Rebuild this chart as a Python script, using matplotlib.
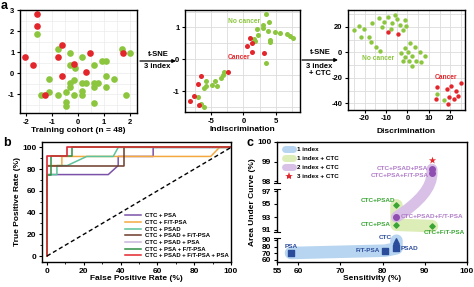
import matplotlib
matplotlib.use('Agg')
import matplotlib.pyplot as plt
import numpy as np
from matplotlib.lines import Line2D
from matplotlib.path import Path
from matplotlib.patches import PathPatch
from matplotlib.ticker import MultipleLocator, FixedLocator

plt.rcParams['font.family'] = ['Liberation Sans', 'DejaVu Sans']
plt.rcParams['font.weight'] = 'bold'
plt.rcParams['axes.labelweight'] = 'bold'
plt.rcParams['axes.unicode_minus'] = False
plt.rcParams['axes.linewidth'] = 1.0

# ---- panel a, training cohort
a1_red_x = [-1.58, -1.58, -2.04, -1.74, -0.63, -0.79, -0.17, -0.63, 0.45, 0.31, 1.71, -1.27]
a1_red_y = [2.82, 2.25, 0.78, 0.40, 1.35, 0.79, 0.43, -0.11, 0.97, 0.05, 0.97, -1.03]
a1_grn_x = [-1.58, -0.78, -0.32, 0.14, -0.33, -0.14, 0.60, 0.91, 1.08, 1.69, 2.00, 1.08,
            1.38, -1.12, -0.17, -0.33, -0.33, 0.14, 0.31, 0.60, 0.76, 0.60, 1.08, -1.12,
            -0.48, 0.14, 0.14, -0.17, -0.78, -1.42, -0.48, -0.48, 0.60, 1.86]
a1_grn_y = [1.87, 1.17, 0.97, 0.79, 0.40, 0.24, 0.40, 0.60, 0.60, 1.17, 0.95, -0.11,
            -0.27, -0.27, -0.30, -0.49, -0.65, -0.49, -0.49, -0.49, -0.49, -0.65, -0.65, -0.90,
            -0.90, -0.87, -1.03, -1.03, -1.03, -1.03, -1.38, -1.56, -1.40, -1.03]

# ---- panel a, t-SNE on 3 index
a2_red_x = [-8.2, -7.58, -6.92, -7.0, -6.6, -2.4, 0.57, 0.98, 1.29, 1.29, 3.23]
a2_red_y = [-1.32, -1.16, -1.43, -0.77, -0.54, -0.40, 0.43, 0.68, 0.51, 0.23, 0.21]
a2_grn_x = [-7.0, -6.5, -6.0, -6.15, -5.8, -5.8, -4.77, -4.36, -4.0, -3.48, -3.08, -2.97,
            3.44, 4.0, 3.08, 3.08, 3.75, 2.06, 1.69, 1.8, 2.31, 4.1, 4.1, 4.88, 5.65,
            6.67, 7.18, 7.69, 3.44]
a2_grn_y = [-1.19, -1.40, -1.50, -0.89, -0.85, -0.68, -0.80, -0.68, -0.84, -0.58, -0.50, -0.39,
            1.41, 1.16, 1.07, 0.97, 0.89, 0.95, 0.63, 0.57, 0.76, 0.62, 0.55, 0.86, 0.84,
            0.78, 0.73, 0.67, -0.11]

# ---- panel a, t-SNE on 3 index + CTC
a3_red_x = [-8.9, -4.2, 13.8, 13.2, 18.7, 18.2, 20.2, 22.4, 19.4, 21.8, 23.6, 24.8]
a3_red_y = [16.2, 14.2, -27.6, -36.5, -40.5, -29.1, -26.5, -30.2, -35.0, -37.0, -34.4, -24.4]
a3_grn_x = [-25.1, -22.8, -20.4, -21.5, -18.1, -16.8, -14.5, -12.6, -16.5, -13.4, -11.1, -11.7,
            -9.1, -7.0, -5.6, -4.9, -3.6, -7.9, -2.3, -1.1, -0.5, 1.1, -1.3, 3.4, 5.7, 8.1,
            -2.8, 0.3, -1.3, 1.9, 3.9, 0.6, -2.3, 6.5, 2.3, 13.6, 17.0]
a3_grn_y = [17.6, 21.0, 18.3, 11.8, 11.8, 7.9, 4.4, 1.3, 23.3, 26.8, 24.1, 19.7,
            27.6, 22.8, 29.4, 26.0, 21.5, 18.3, 17.6, 25.4, 20.9, 7.1, 3.6, 3.9, 0.5, -2.7,
            -0.3, 0.5, -3.5, -2.9, -6.9, -6.9, -6.6, -7.4, -10.8, -33.1, -37.6]

# ---- panel b, ROC curves
roc_labels = ['CTC + PSA', 'CTC + F/T-PSA', 'CTC + PSAD', 'CTC + PSAD + F/T-PSA',
              'CTC + PSAD + PSA', 'CTC + PSA + F/T-PSA', 'CTC + PSAD + F/T-PSA + PSA']
roc_colors = ['#7b52a8', '#f4a940', '#5cc39a', '#6e3b2b', '#cbb4dc', '#2f8f46', '#e3262b']
roc_fpr = [[0, 0, 33.3, 38.7, 38.7, 57.7, 57.7, 100],
           [0, 0, 8.1, 8.1, 89, 93.7, 100],
           [0, 0, 5.4, 5.4, 11, 21.6, 36, 38.7, 100],
           [0, 0, 41.6, 41.6, 100],
           [0, 0, 10.8, 10.8, 100],
           [0, 0, 2.2, 2.2, 13.5, 13.5, 100],
           [0, 0, 10.8, 10.8, 100]]
roc_tpr = [[0, 75, 75, 83.3, 91.7, 91.7, 100, 100],
           [0, 83.3, 83.3, 91.7, 91.7, 100, 100],
           [0, 75, 75, 83.3, 83.3, 91.7, 91.7, 100, 100],
           [0, 83.3, 83.3, 100, 100],
           [0, 91.7, 91.7, 100, 100],
           [0, 75, 75, 91.7, 91.7, 100, 100],
           [0, 91.7, 91.7, 100, 100]]

# ---- panel c, sensitivity vs AUC
one_names = ['PSA', 'F/T-PSA', 'PSAD', 'CTC']
one_sens = [58.3, 80.6, 83.3, 83.3]
one_auc = [70.5, 74.0, 77.5, 89.0]
ctc_names = ['CTC+PSAD', 'CTC+PSA', 'CTC+F/T-PSA']
ctc_sens = [83.3, 83.3, 91.7]
ctc_auc = [94.8, 91.8, 91.6]
two_names = ['CTC+PSAD+F/T-PSA', 'CTC+PSA+F/T-PSA', 'CTC+PSAD+PSA']
two_sens = [83.3, 91.7, 91.7]
two_auc = [93.0, 98.4, 98.6]
three_sens = [91.7]
three_auc = [99.1]

RED = '#e3262b'
GRN = '#8cc63e'

fig = plt.figure(figsize=(4.74, 2.87), dpi=100)
W, H = 474.0, 287.0


def box(l, t, r, b):
    return [l / W, 1 - b / H, (r - l) / W, (b - t) / H]


def style_scatter(ax):
    ax.tick_params(labelsize=5.5, length=2.5, width=0.8, pad=1.5)
    ax.tick_params(which='minor', length=0)
    ax.set_axisbelow(True)


# a1
ax1 = fig.add_axes(box(20, 10, 137, 113))
ax1.scatter(a1_grn_x, a1_grn_y, s=23, c=GRN, lw=0)
ax1.scatter(a1_red_x, a1_red_y, s=23, c=RED, lw=0)
ax1.set_xlim(-2.25, 2.27)
ax1.set_ylim(-1.9, 3.02)
ax1.xaxis.set_major_locator(MultipleLocator(1))
ax1.yaxis.set_major_locator(MultipleLocator(1))
ax1.xaxis.set_minor_locator(MultipleLocator(0.5))
ax1.yaxis.set_minor_locator(MultipleLocator(0.5))
ax1.grid(which='both', color='#ececec', lw=0.5)
ax1.set_xlabel('Training cohort (n = 48)', fontsize=6, labelpad=1)
style_scatter(ax1)

# a2
ax2 = fig.add_axes(box(185, 10, 300, 112))
ax2.scatter(a2_grn_x, a2_grn_y, s=13, c=GRN, lw=0)
ax2.scatter(a2_red_x, a2_red_y, s=13, c=RED, lw=0)
ax2.set_xlim(-9.0, 8.7)
ax2.set_ylim(-1.66, 1.55)
ax2.xaxis.set_major_locator(MultipleLocator(5))
ax2.yaxis.set_major_locator(MultipleLocator(1))
ax2.xaxis.set_minor_locator(MultipleLocator(2.5))
ax2.yaxis.set_minor_locator(MultipleLocator(0.5))
ax2.grid(which='both', color='#dcdcdc', lw=0.6)
ax2.text(-2.4, 1.18, 'No cancer', color=GRN, fontsize=4.8, va='center')
ax2.text(-2.4, 0.05, 'Cancer', color=RED, fontsize=4.8, va='center')
ax2.set_xlabel('Indiscrimination', fontsize=6, labelpad=1)
style_scatter(ax2)

# a3
ax3 = fig.add_axes(box(348, 10, 465, 109.5))
ax3.scatter(a3_grn_x, a3_grn_y, s=10, c=GRN, lw=0)
ax3.scatter(a3_red_x, a3_red_y, s=10, c=RED, lw=0)
ax3.set_xlim(-27.7, 26.8)
ax3.set_ylim(-44.9, 33.3)
ax3.xaxis.set_major_locator(MultipleLocator(10))
ax3.yaxis.set_major_locator(MultipleLocator(20))
ax3.xaxis.set_minor_locator(MultipleLocator(5))
ax3.yaxis.set_minor_locator(MultipleLocator(10))
ax3.grid(which='both', color='#dcdcdc', lw=0.6)
ax3.text(-21, -4.7, 'No cancer', color=GRN, fontsize=4.8, va='center')
ax3.text(12.8, -20, 'Cancer', color=RED, fontsize=4.8, va='center')
ax3.set_xlabel('Discrimination', fontsize=6, labelpad=4)
style_scatter(ax3)

# arrows between a panels
for x0, x1, y, lines in [(140, 176, 61, ['3 index']), (302, 338, 60, ['3 index', '+ CTC'])]:
    fig.add_artist(plt.Annotation('', xy=(x1 / W, 1 - y / H), xytext=(x0 / W, 1 - y / H),
                                  xycoords='figure fraction',
                                  arrowprops=dict(arrowstyle='-|>', lw=0.9, color='black',
                                                  mutation_scale=5, shrinkA=0, shrinkB=0)))
    xc = (x0 + x1) / 2 / W
    fig.text(xc, 1 - (y - 7) / H, 't-SNE', fontsize=5.5, ha='center', va='center')
    for i, t in enumerate(lines):
        fig.text(xc - (0.002 if i == 0 else 0), 1 - (y + 6 + 7.5 * i) / H, t,
                 fontsize=5.5, ha='center', va='center')

# b
axb = fig.add_axes(box(42, 142, 231, 262))
for lab, col, fx, ty in zip(roc_labels, roc_colors, roc_fpr, roc_tpr):
    axb.plot(fx, ty, color=col, lw=1.1, label=lab)
axb.plot([0, 100], [0, 100], color='black', lw=1.0, ls=(0, (3, 2)))
axb.set_xlim(-2.7, 100)
axb.set_ylim(-5.5, 105)
axb.xaxis.set_major_locator(MultipleLocator(20))
axb.yaxis.set_major_locator(MultipleLocator(20))
axb.xaxis.set_minor_locator(MultipleLocator(10))
axb.yaxis.set_minor_locator(MultipleLocator(10))
axb.tick_params(labelsize=6, length=2.5, width=0.8, pad=1.5)
axb.tick_params(which='minor', length=1.5, width=0.6)
axb.set_xlabel('False Positive Rate (%)', fontsize=6, labelpad=0)
axb.set_ylabel('True Positive Rate (%)', fontsize=6, labelpad=1)
axb.legend(loc='lower right', bbox_to_anchor=(1.01, 0.0), frameon=False, fontsize=4.3,
           handlelength=2.6, handletextpad=0.8, labelspacing=0.25, borderaxespad=0.2)

# c with broken y axis
auc_pts = [57, 60, 90, 91, 97, 98, 100]
px_pts = [0, 2, 22, 32, 71, 81, 120]


def fwd(v):
    return np.interp(v, auc_pts, px_pts)


def inv(v):
    return np.interp(v, px_pts, auc_pts)


axc = fig.add_axes(box(277, 142, 467, 262))
axc.set_yscale('function', functions=(fwd, inv))
axc.set_xlim(55, 100)
axc.set_ylim(57, 100)
axc.yaxis.set_major_locator(FixedLocator([60, 70, 80, 90, 91, 93, 95, 97, 98, 99, 100]))
axc.yaxis.set_minor_locator(FixedLocator([]))
axc.xaxis.set_major_locator(FixedLocator([55, 60, 70, 80, 90, 100]))
axc.tick_params(labelsize=6, length=2.5, width=0.8, pad=1.5)

BLUE_BG, GRN_BG, PUR_BG = '#b7d5f0', '#ddedb8', '#d8c0e6'
axc.plot(one_sens, one_auc, color=BLUE_BG, lw=9, solid_capstyle='round',
         solid_joinstyle='round', zorder=1)
axc.plot(ctc_sens, ctc_auc, color=GRN_BG, lw=9, solid_capstyle='round',
         solid_joinstyle='round', zorder=1)
ctrl = (two_sens[1], two_auc[0] + 0.65 * (two_auc[1] - two_auc[0]))
pur_path = Path([(two_sens[0], two_auc[0]), ctrl, (two_sens[1], two_auc[1]), (two_sens[2], two_auc[2])],
                [Path.MOVETO, Path.CURVE3, Path.CURVE3, Path.LINETO])
axc.add_patch(PathPatch(pur_path, fill=False, edgecolor=PUR_BG, lw=8, capstyle='round',
                        joinstyle='round', zorder=1))

NAVY, DGRN, PUR, LPUR = '#2b4c9a', '#3aa535', '#8e4fb0', '#b07cc8'
axc.scatter(one_sens[:3], one_auc[:3], marker='s', s=14, c=NAVY, zorder=3)
axc.scatter(one_sens[3:], one_auc[3:], marker='^', s=16, c=NAVY, zorder=3)
axc.scatter(ctc_sens, ctc_auc, marker='D', s=7, c=DGRN, zorder=3)
axc.scatter(two_sens, two_auc, marker='o', s=16, c=PUR, zorder=3)
axc.scatter(three_sens, three_auc, marker='*', s=30, c=RED, lw=0, zorder=3)

one_off = [((0, 3), 'center', 'bottom'), ((-4, 0), 'right', 'center'),
           ((3, 0), 'left', 'center'), ((-3, 2), 'right', 'center')]
ctc_off = [((-1, 2), 'right', 'bottom'), ((-4, 0), 'right', 'center'), ((9, -3), 'center', 'top')]
two_off = [((3, 0), 'left', 'center'), ((-2, -1.5), 'right', 'center'), ((-3, 0.5), 'right', 'center')]
for names, xs, ys, offs, col in [(one_names, one_sens, one_auc, one_off, NAVY),
                                 (ctc_names, ctc_sens, ctc_auc, ctc_off, DGRN),
                                 (two_names, two_sens, two_auc, two_off, LPUR)]:
    for n, x, y, (o, ha, va) in zip(names, xs, ys, offs):
        axc.annotate(n, (x, y), xytext=o, textcoords='offset points', ha=ha, va=va,
                     fontsize=4.6, color=col)

# break marks on y axis
ytr = axc.get_yaxis_transform()
for lo, hi in [(90, 91), (97, 98)]:
    axc.plot([0, 0], [lo + 0.2, hi - 0.2], transform=ytr, color='white', lw=2.5,
             clip_on=False, zorder=5, solid_capstyle='butt')
    for v in (lo + 0.2, hi - 0.2):
        axc.plot([-0.018, 0.018], [v, v], transform=ytr, color='black', lw=0.8,
                 clip_on=False, zorder=6)

axc.set_xlabel('Sensitivity (%)', fontsize=6, labelpad=0)
axc.set_ylabel('Area Under Curve (%)', fontsize=6, labelpad=1)
leg_handles = [Line2D([], [], color=BLUE_BG, lw=5, solid_capstyle='round'),
               Line2D([], [], color=GRN_BG, lw=5, solid_capstyle='round'),
               Line2D([], [], color=PUR_BG, lw=5, solid_capstyle='round'),
               Line2D([], [], color=RED, marker='*', ls='none', markersize=6, markeredgewidth=0)]
axc.legend(leg_handles, ['1 index', '1 index + CTC', '2 index + CTC', '3 index + CTC'],
           loc='upper left', bbox_to_anchor=(0.02, 0.99), frameon=False, fontsize=4.5,
           handlelength=1.3, handletextpad=0.7, labelspacing=0.55, borderaxespad=0.2)

# panel letters
fig.text(1 / W, 1 - 6 / H, 'a', fontsize=9, va='center')
fig.text(3 / W, 1 - 143 / H, 'b', fontsize=9, va='center')
fig.text(247 / W, 1 - 143 / H, 'c', fontsize=9, va='center')

fig.savefig('out.png', dpi=100)
